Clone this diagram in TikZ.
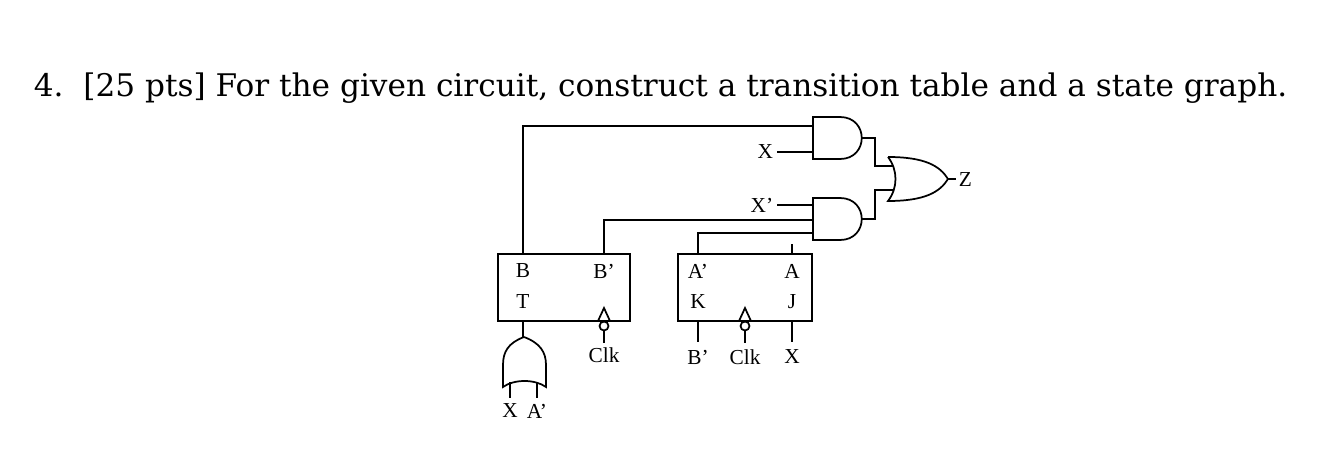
\documentclass[tikz,border=0pt]{standalone}
\usepackage{fontspec}
\setmainfont{Liberation Serif}
\newfontfamily\titlefont{DejaVu Serif}
\begin{document}
\begin{tikzpicture}[x=0.75pt,y=-0.75pt,line width=1.3pt,
  lbl/.style={inner sep=0pt,font=\fontsize{16}{16}\selectfont},
  wire/.style={line width=1.2pt}]
\useasboundingbox (0,0) rectangle (1318,467);
\node[anchor=base west,inner sep=0pt,font=\titlefont\fontsize{18.5}{20}\selectfont] (title) at (33,97) {\resizebox{940pt}{!}{4.\ \ [25 pts] For the given circuit, construct a transition table and a state graph.}};
% flip-flop boxes
\draw (498,254) rectangle (630,321);
\draw (678,254) rectangle (812,321);
\node[lbl] (qB) at (523,271) {B};
\node[lbl] (qBn) at (604,271) {B'};
\node[lbl] (inT) at (523,302) {T};
\node[lbl] (qAn) at (698,271) {A'};
\node[lbl] (qA) at (792,271) {A};
\node[lbl] (inK) at (698,302) {K};
\node[lbl] (inJ) at (792,302) {J};
% clocks
\draw (598,321) -- (604,308) -- (610,321);
\draw (604,326) circle (4.5);
\draw (604,330.5) -- (604,343);
\node[lbl] (clk1) at (604,355) {Clk};
\draw (739,321) -- (745,308) -- (751,321);
\draw (745,326) circle (4.5);
\draw (745,330.5) -- (745,343);
\node[lbl] (clk2) at (745,357) {Clk};
% JK inputs
\draw (698,321) -- (698,342);
\node[lbl] (kin) at (698,357) {B'};
\draw (792,321) -- (792,342);
\node[lbl] (jin) at (792,357) {X};
\draw (792,244) -- (792,254);
% OR gate at T
\draw (523,321) -- (523,337);
\draw (524,337) .. controls (540,343) and (546,352) .. (546,365) -- (546,387)
  .. controls (535,379) and (514,379) .. (503,387) -- (503,365)
  .. controls (503,352) and (508,343) .. (524,337);
\draw (510,382) -- (510,398);
\draw (537,382) -- (537,398);
\node[lbl] (orx) at (510,411) {X};
\node[lbl] (ora) at (537,411) {A'};
% AND gates
\draw (813,117) -- (840,117) .. controls (869,117) and (869,159) .. (840,159) -- (813,159) -- cycle;
\draw (813,198) -- (840,198) .. controls (869,198) and (869,240) .. (840,240) -- (813,240) -- cycle;
% OR gate
\draw (888,157) .. controls (925,157) and (940,166) .. (948,179)
  .. controls (940,192) and (925,201) .. (888,201)
  .. controls (898,188) and (898,170) .. (888,157);
\draw (948,179) -- (956,179);
\node[lbl,anchor=west] (Z) at (958,180) {Z};
% wires
\draw[wire] (523,254) -- (523,126) -- (813,126);
\node[lbl,anchor=east] (x1) at (774,152) {X};
\draw[wire] (777,152) -- (813,152);
\node[lbl,anchor=east] (x2) at (774,205) {X'};
\draw[wire] (777,205) -- (813,205);
\draw[wire] (604,254) -- (604,220) -- (813,220);
\draw[wire] (698,254) -- (698,233) -- (813,233);
\draw[wire] (861,138) -- (875,138) -- (875,166) -- (893,166);
\draw[wire] (861,219) -- (875,219) -- (875,190) -- (893,190);
\end{tikzpicture}
\end{document}
